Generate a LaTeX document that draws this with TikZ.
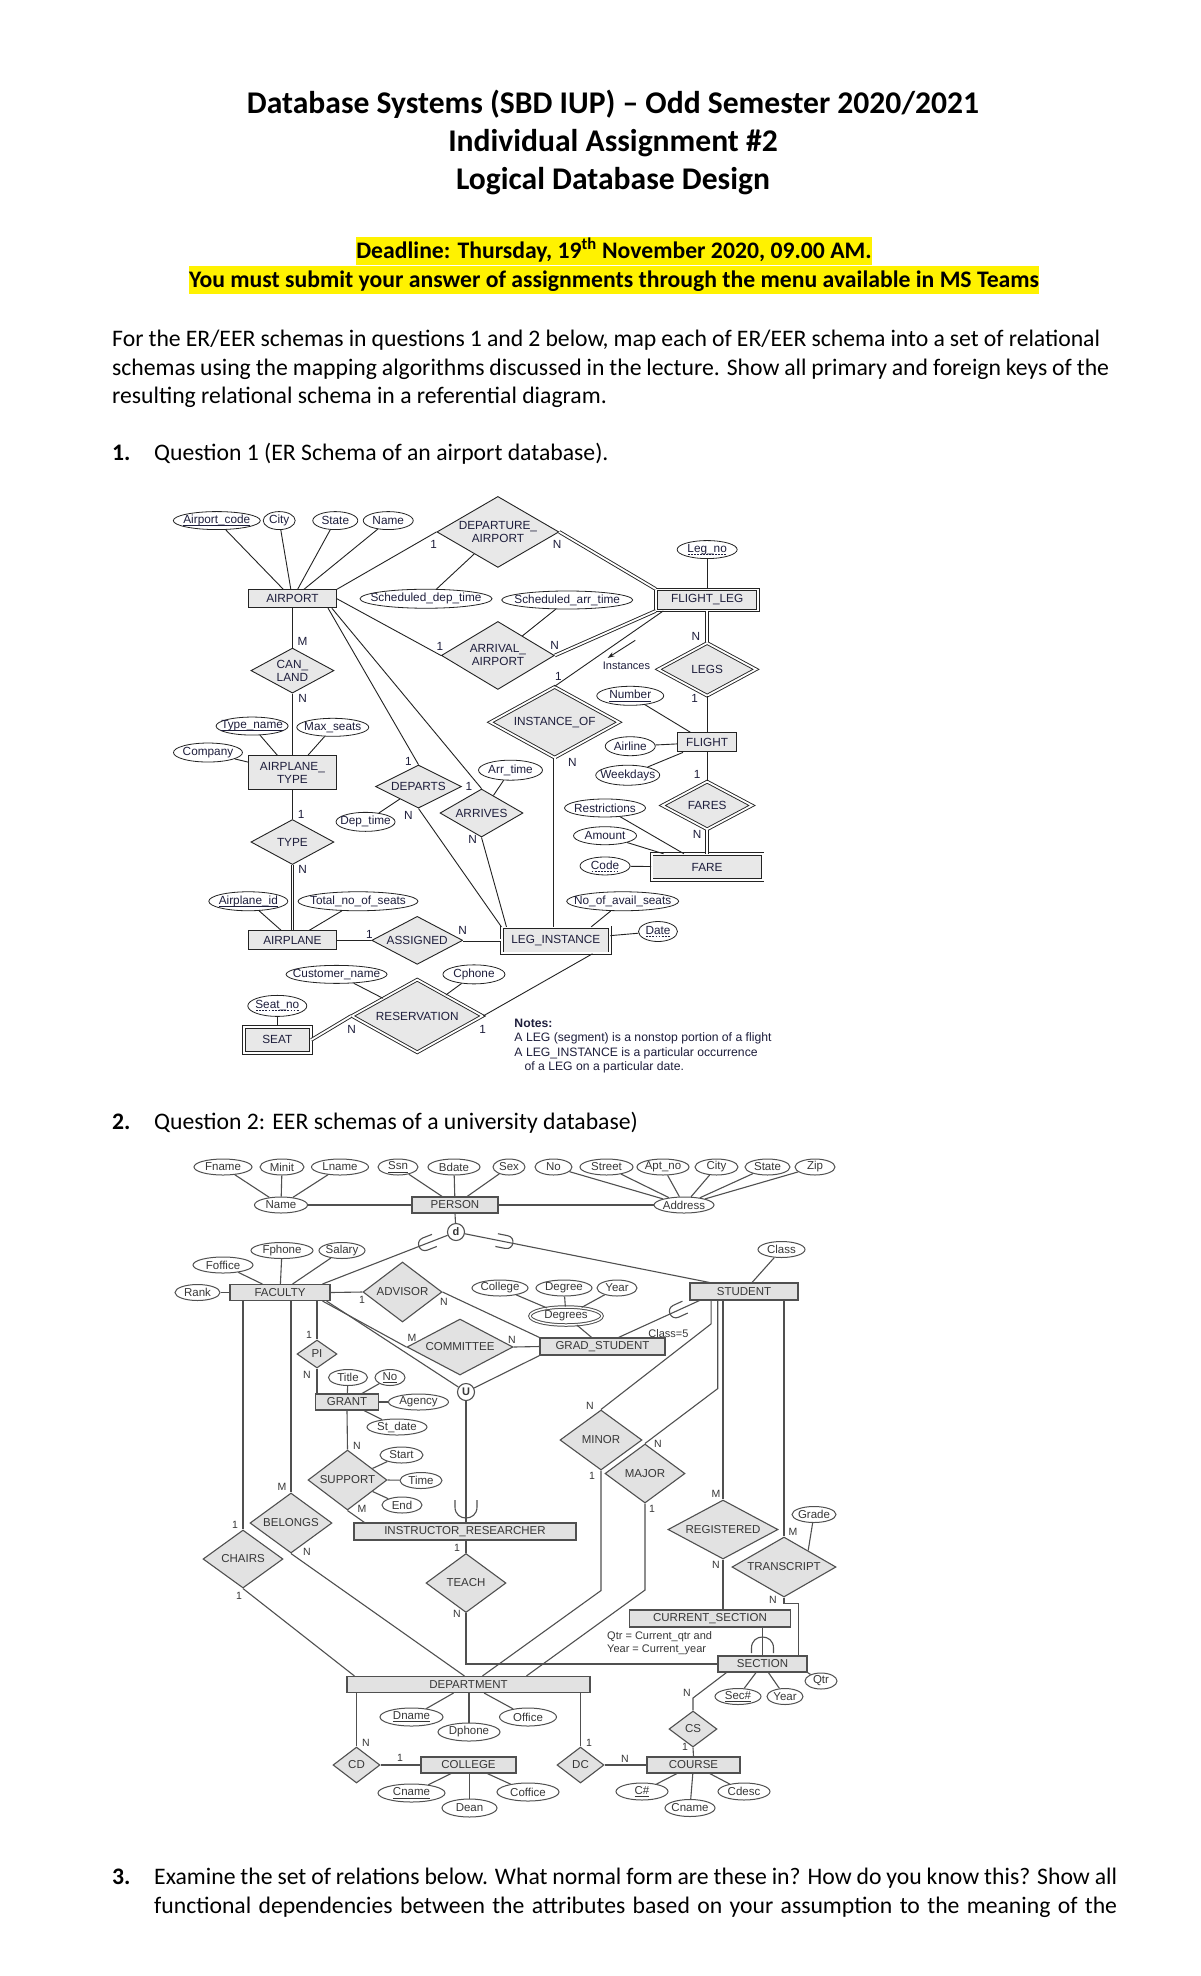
\documentclass[tikz,border=0pt]{standalone}
\usepackage{fontspec}
\usepackage{graphicx}
\setmainfont{Carlito}
\newfontfamily\dfont{Liberation Sans}
\usetikzlibrary{shapes.geometric,calc,arrows.meta}
\definecolor{egray}{RGB}{232,232,232}
\definecolor{dtext}{RGB}{30,30,60}
\definecolor{dline}{RGB}{35,35,35}
\definecolor{ftext}{RGB}{55,55,55}
\definecolor{fline}{RGB}{80,80,80}
\definecolor{fgray}{RGB}{226,226,226}
\newcommand{\keyul}[1]{\setbox0=\hbox{#1}\leavevmode\rlap{\raisebox{-2.2pt}{\rule{\wd0}{0.6pt}}}\box0}
\newcommand{\dashul}[1]{\setbox0=\hbox{#1}\leavevmode\rlap{\raisebox{-2.2pt}{\hbox to \wd0{\xleaders\hbox to 3pt{\hss\rule{1.8pt}{0.6pt}\hss}\hfill}}}\box0}
\tikzset{
 sz/.style 2 args={minimum width=#1pt,minimum height=#2pt},
 txA/.style={font=\dfont\fontsize{11.8}{13}\selectfont, text=dtext},
 attA/.style={ellipse, draw=dline, fill=white, inner sep=0pt, line width=0.8pt, label={[txA, inner sep=0pt]center:{#1}}},
 entA/.style={txA, rectangle, draw=dline, fill=egray, inner sep=0pt, line width=0.9pt, align=center},
 wentA/.style={entA, double=white, double distance=1.8pt},
 relA/.style={diamond, draw=dline, fill=egray, inner sep=0pt, line width=0.9pt, label={[txA, inner sep=0pt, align=center]center:{#1}}},
 wrelA/.style={relA={#1}, double=white, double distance=1.8pt},
 lnA/.style={draw=dline, line width=0.9pt},
 dlnA/.style={lnA, double=white, double distance=1.8pt},
 crdA/.style={txA, inner sep=0pt},
 txB/.style={font=\dfont\fontsize{11.5}{13}\selectfont, text=ftext},
 attB/.style={ellipse, draw=fline, fill=white, inner sep=0pt, line width=1pt, label={[txB, inner sep=0pt]center:{#1}}},
 entB/.style={txB, rectangle, draw=fline, fill=fgray, inner sep=0pt, line width=1.1pt},
 relB/.style={diamond, draw=fline, fill=fgray, inner sep=0pt, line width=1.1pt, label={[txB, inner sep=0pt]center:{#1}}},
 lnB/.style={draw=fline, line width=1.1pt},
 crdB/.style={font=\dfont\fontsize{10.5}{12}\selectfont, text=ftext, inner sep=0pt},
 subA/.pic={\draw[draw=fline, line width=1.1pt] (10,-6.5) -- (0,-6.5) .. controls (-8.7,-6.5) and (-8.7,6.5) .. (0,6.5) -- (10,6.5);},
 body/.style={font=\fontsize{23.7}{29}\selectfont, inner sep=0pt, anchor=base west},
 bbody/.style={font=\bfseries\fontsize{23.7}{29}\selectfont, inner sep=0pt, anchor=base west},
 ttl/.style={anchor=base, inner sep=0pt, font=\bfseries\fontsize{31.6}{38}\selectfont},
 hlt/.style={anchor=base, fill=yellow, inner xsep=0pt, inner ysep=0pt, text height=21.5pt, text depth=6.5pt, font=\bfseries\fontsize{23.7}{29}\selectfont},
}
\begin{document}
\begin{tikzpicture}[x=1pt,y=-1pt]
\path[use as bounding box, fill=white] (0,0) rectangle (1200,1976);

% ---------------- header ----------------
\node[ttl] (title1) at (613,113) {Database Systems (SBD IUP) – Odd Semester 2020/2021};
\node[ttl] (title2) at (613,151) {Individual Assignment \#2};
\node[ttl] (title3) at (613,189) {Logical Database Design};
\node[hlt] (dead1) at (614,258.5) {Deadline: Thursday, 19\textsuperscript{th} November 2020, 09.00 AM.};
\node[hlt] (dead2) at (614,287.5) {You must submit your answer of assignments through the menu available in MS Teams};
\node[body] (par1) at (112,346) {\makebox[988pt][s]{For the ER/EER schemas in questions 1 and 2 below, map each of ER/EER schema into a set of relational}};
\node[body] (par2) at (112,375) {\makebox[997pt][s]{schemas using the mapping algorithms discussed in the lecture. Show all primary and foreign keys of the}};
\node[body] (par3) at (112,403) {resulting relational schema in a referential diagram.};
\node[bbody] (q1n) at (112,460) {1.};
\node[body] (q1t) at (154,460) {Question 1 (ER Schema of an airport database).};
\node[bbody] (q2n) at (112,1129) {2.};
\node[body] (q2t) at (154,1129) {Question 2: EER schemas of a university database)};
\node[bbody] (q3n) at (112,1884) {3.};
\node[body] (q3a) at (154,1884) {\makebox[963pt][s]{Examine the set of relations below. What normal form are these in? How do you know this? Show all}};
\node[body] (q3b) at (154,1913) {\makebox[963pt][s]{functional dependencies between the attributes based on your assumption to the meaning of the}};

% ---------------- diagram 1 (coordinates in reduced units) ----------------
\begin{scope}[x=1.2605pt,y=-1.2605pt]
\node[attA={\keyul{Airport\_code}}, sz={87}{18}] (apcode) at (172,413) {};
\node[attA={City}, sz={32}{18}] (apcity) at (221.5,413) {};
\node[attA={State}, sz={45}{18}] (apstate) at (266,413) {};
\node[attA={Name}, sz={50}{18}] (apname) at (308,413) {};
\node[entA, sz={88}{18}] (airport) at (232,475) {AIRPORT};
\node[relA={DEPARTURE\_\\AIRPORT}, sz={122}{71}] (dep) at (395,422) {};
\node[attA={Scheduled\_dep\_time}, sz={132}{19}] (sdt) at (338,475) {};
\node[attA={Scheduled\_arr\_time}, sz={131}{18}] (sat) at (450,476) {};
\node[wentA, sz={102}{21}] (fleg) at (561,476) {FLIGHT\_LEG};
\node[attA={\dashul{Leg\_no}}, sz={60}{18}] (legno) at (561,436) {};
\node[relA={ARRIVAL\_\\AIRPORT}, sz={113}{68}] (arr) at (395,520) {};
\node[wrelA={INSTANCE\_OF}, sz={129}{71}] (instof) at (440,573) {};
\node[wrelA={LEGS}, sz={98}{53}] (legs) at (561,531) {};
\node[entA, sz={59}{19}] (flight) at (561,589) {FLIGHT};
\node[attA={\keyul{Number}}, sz={67}{19}] (number) at (500,552) {};
\node[attA={Airline}, sz={50}{19}] (airline) at (500,592) {};
\node[attA={Weekdays}, sz={64}{20}] (weekdays) at (498,615) {};
\node[wrelA={FARES}, sz={90}{48}] (fares) at (561,639) {};
\node[wentA, sz={111}{26}] (fare) at (561,688) {FARE};
\node[attA={Restrictions}, sz={81}{18}] (restr) at (480,641) {};
\node[attA={Amount}, sz={63}{18}] (amount) at (480,663) {};
\node[attA={\dashul{Code}}, sz={50}{18}] (code) at (480,687) {};
\node[attA={No\_of\_avail\_seats}, sz={112}{19}] (nas) at (494,715) {};
\node[attA={\dashul{Date}}, sz={39}{20}] (date) at (522,739) {};
\node[wentA, sz={108}{26}] (li) at (441,746) {LEG\_INSTANCE};
\node[relA={CAN\_\\LAND}, sz={83}{45}] (canland) at (232,532) {};
\node[attA={\keyul{Type\_name}}, sz={72}{18}] (typename) at (200,576) {};
\node[attA={Max\_seats}, sz={72}{18}] (maxseats) at (264,577) {};
\node[attA={Company}, sz={69}{19}] (company) at (165,597) {};
\node[entA, sz={88}{34}] (aptype) at (232,613) {AIRPLANE\_\\TYPE};
\node[relA={DEPARTS}, sz={86}{43}] (departs) at (332,624) {};
\node[attA={Dep\_time}, sz={59}{19}] (deptime) at (290,652) {};
\node[relA={ARRIVES}, sz={83}{48}] (arrives) at (382,645) {};
\node[attA={Arr\_time}, sz={64}{20}] (arrtime) at (405,611) {};
\node[relA={TYPE}, sz={83}{45}] (type) at (232,668) {};
\node[attA={\keyul{Airplane\_id}}, sz={79}{19}] (apid) at (197,715) {};
\node[attA={Total\_no\_of\_seats}, sz={120}{19}] (tns) at (284,715) {};
\node[entA, sz={88}{19}] (airplane) at (232,746) {AIRPLANE};
\node[relA={ASSIGNED}, sz={91}{48}] (assigned) at (331,746) {};
\node[attA={Customer\_name}, sz={101}{18}] (custname) at (267,773) {};
\node[attA={Cphone}, sz={62}{19}] (cphone) at (376,773) {};
\node[wrelA={RESERVATION}, sz={131}{73}] (resv) at (331,806) {};
\node[attA={\dashul{Seat\_no}}, sz={59}{21}] (seatno) at (220,798) {};
\node[wentA, sz={67}{26}] (seat) at (220,825) {SEAT};

\draw[lnA] (apcode) -- (airport);
\draw[lnA] (apcity) -- (airport);
\draw[lnA] (apstate) -- (airport);
\draw[lnA] (apname) -- (airport);
\draw[lnA] (airport.north east) -- (dep.west);
\draw[dlnA] (dep.east) -- (fleg.north west);
\draw[lnA] (sdt) -- (dep);
\draw[lnA] (sat) -- (arr);
\draw[lnA] (legno) -- (fleg);
\draw[lnA] (airport.east) -- (arr.west);
\draw[dlnA] (arr.east) -- (fleg.south west);
\draw[lnA] ($(fleg.south west)+(6,0)$) -- (instof.north);
\draw[dlnA] (instof.south) -- (instof.south |- li.north);
\draw[dlnA] (fleg.south) -- (legs.north);
\draw[lnA] (legs.south) -- (flight.north);
\draw[lnA] (flight.south) -- (fares.north);
\draw[dlnA] (fares.south) -- (fare.north);
\draw[lnA] (number) -- (flight);
\draw[lnA] (airline) -- (flight);
\draw[lnA] (weekdays) -- (flight);
\draw[lnA] (restr) -- (fare);
\draw[lnA] (amount) -- (fare);
\draw[lnA] (code) -- (fare);
\draw[lnA] (nas) -- ($(li.north)+(28,0)$);
\draw[lnA] (date) -- (li);
\draw[lnA] ($(li.south)+(29,0)$) -- (resv.east);
\draw[lnA] (airport.south) -- (canland.north);
\draw[lnA] (canland.south) -- (aptype.north);
\draw[lnA] (typename) -- (aptype);
\draw[lnA] (maxseats) -- (aptype);
\draw[lnA] (company) -- (aptype);
\draw[lnA] ($(airport.south east)+(-7,0)$) -- (departs.north);
\draw[lnA] ($(airport.south east)+(-4,0)$) -- (arrives.north);
\draw[lnA] (departs.south) -- (li.north west);
\draw[lnA] (arrives.south) -- ($(li.north west)+(4,0)$);
\draw[lnA] (deptime) -- (departs);
\draw[lnA] (arrtime) -- (arrives);
\draw[lnA] (aptype.south) -- (type.north);
\draw[dlnA] (type.south) -- (airplane.north);
\draw[lnA] (apid) -- (airplane);
\draw[lnA] (tns) -- (airplane);
\draw[lnA] (airplane.east) -- (assigned.west);
\draw[dlnA] (assigned.east) -- (li.west);
\draw[lnA] (custname) -- (resv);
\draw[lnA] (cphone) -- (resv);
\draw[lnA] (seatno) -- (seat);
\draw[dlnA] (seat.east) -- (resv.west);

\coordinate (insA) at (504,508);
\coordinate (insB) at (482,522);
\draw[lnA, -{Stealth[length=7pt,width=4.5pt]}] (insA) -- (insB);
\node[crdA, font=\dfont\fontsize{11}{13}\selectfont] (inslbl) at (497,528) {Instances};

\node[crdA] (k1) at (344,432) {1};
\node[crdA] (k2) at (442,432) {N};
\node[crdA] (k3) at (349,513) {1};
\node[crdA] (k4) at (440,512) {N};
\node[crdA] (k5) at (443,537) {1};
\node[crdA] (k6) at (454,605) {N};
\node[crdA] (k7) at (552,505) {N};
\node[crdA] (k8) at (551,554) {1};
\node[crdA] (k9) at (553,614) {1};
\node[crdA] (k10) at (553,662) {N};
\node[crdA] (k11) at (240,509) {M};
\node[crdA] (k12) at (240,554) {N};
\node[crdA] (k13) at (324,604) {1};
\node[crdA] (k14) at (372,624) {1};
\node[crdA] (k15) at (324,647) {N};
\node[crdA] (k16) at (375,666) {N};
\node[crdA] (k17) at (239,646) {1};
\node[crdA] (k18) at (240,690) {N};
\node[crdA] (k19) at (293,741) {1};
\node[crdA] (k20) at (367,738) {N};
\node[crdA] (k21) at (279,817) {N};
\node[crdA] (k22) at (383,817) {1};

\node[crdA, anchor=west, font=\dfont\bfseries\fontsize{12.2}{14}\selectfont] (notes0) at (408,812) {Notes:};
\node[crdA, anchor=west, font=\dfont\fontsize{12.2}{14}\selectfont] (notes1) at (408,823.5) {A LEG (segment) is a nonstop portion of a flight};
\node[crdA, anchor=west, font=\dfont\fontsize{12.2}{14}\selectfont] (notes2) at (408,835.3) {A LEG\_INSTANCE is a particular occurrence};
\node[crdA, anchor=west, font=\dfont\fontsize{12.2}{14}\selectfont] (notes3) at (416,846.5) {of a LEG on a particular date.};
\end{scope}

% ---------------- diagram 2 (full units) ----------------
\node[attB={Fname}, sz={58}{16}] (fname) at (223,1167) {};
\node[attB={Minit}, sz={44}{16}] (minit) at (282,1167) {};
\node[attB={Lname}, sz={57}{16}] (lname) at (340,1167) {};
\node[attB={\keyul{Ssn}}, sz={40}{16}] (ssn) at (398,1167) {};
\node[attB={Bdate}, sz={52}{16}] (bdate) at (454,1167) {};
\node[attB={Sex}, sz={32}{16}] (sex) at (509,1167) {};
\node[attB={No}, sz={37}{16}] (adno) at (553.5,1167) {};
\node[attB={Street}, sz={53}{16}] (street) at (606.5,1167) {};
\node[attB={Apt\_no}, sz={52}{16}] (aptno) at (663,1167) {};
\node[attB={City}, sz={43}{16}] (city) at (716.5,1167) {};
\node[attB={State}, sz={45}{16}] (state) at (767.5,1167) {};
\node[attB={Zip}, sz={40}{16}] (zip) at (815,1167) {};
\node[attB={Name}, sz={53}{16}] (name) at (281,1205) {};
\node[entB, sz={86}{16}] (person) at (455,1205) {PERSON};
\node[attB={Address}, sz={60}{16}] (address) at (684,1205) {};
\node[txB, circle, draw=fline, fill=white, line width=1.1pt, minimum size=17pt, inner sep=0pt, font=\dfont\bfseries\fontsize{11}{12}\selectfont] (dcirc) at (456,1232) {d};

\node[attB={Fphone}, sz={62}{16}] (fphone) at (282,1250.5) {};
\node[attB={Salary}, sz={46}{16}] (salary) at (342,1250.5) {};
\node[attB={Foffice}, sz={60}{16}] (foffice) at (223,1265) {};
\node[attB={Rank}, sz={45}{16}] (rank) at (197.5,1292.5) {};
\node[entB, sz={100}{16}] (faculty) at (280,1292.5) {FACULTY};
\node[relB={ADVISOR}, sz={79}{60}] (advisor) at (402.5,1292) {};
\node[relB={COMMITTEE}, sz={106}{56}] (committee) at (460,1347) {};
\node[attB={College}, sz={56}{16}] (college) at (500,1288) {};
\node[attB={Degree}, sz={56}{16}] (degree) at (564,1288) {};
\node[attB={Year}, sz={40}{16}] (year) at (617,1288) {};
\node[attB={Degrees}, sz={72}{18}, double=white, double distance=1.5pt] (degrees) at (566,1316) {};
\node[entB, sz={125}{17}] (gradst) at (602.5,1346.5) {GRAD\_STUDENT};
\node[attB={Class}, sz={47}{16}] (class) at (781.5,1249.5) {};
\node[entB, sz={108}{17}] (student) at (744,1291.5) {STUDENT};
\node[crdB, font=\dfont\fontsize{11}{12}\selectfont] (class5) at (668.5,1334) {Class=5};

\node[relB={PI}, sz={40}{28}] (pi) at (317,1354) {};
\node[attB={Title}, sz={39}{16}] (title) at (348,1377.5) {};
\node[attB={\keyul{No}}, sz={30}{16}] (grno) at (390,1377.5) {};
\node[entB, sz={63}{16}] (grant) at (347,1402) {GRANT};
\node[attB={Agency}, sz={60}{16}] (agency) at (418.5,1402) {};
\node[attB={St\_date}, sz={60}{16}] (stdate) at (397,1427) {};
\node[txB, circle, draw=fline, fill=white, line width=1.1pt, minimum size=17pt, inner sep=0pt, font=\dfont\bfseries\fontsize{11}{12}\selectfont] (ucirc) at (466,1392) {U};
\node[relB={SUPPORT}, sz={79}{60}] (support) at (347.5,1480) {};
\node[attB={Start}, sz={43}{16}] (start) at (401.5,1455) {};
\node[attB={Time}, sz={42}{16}] (time) at (421,1480.5) {};
\node[attB={End}, sz={40}{16}] (send) at (402,1505) {};
\node[relB={BELONGS}, sz={82}{60}] (belongs) at (291,1523) {};
\node[relB={CHAIRS}, sz={80}{58}] (chairs) at (243,1559) {};
\node[entB, sz={222}{17}] (ir) at (465,1531.5) {INSTRUCTOR\_RESEARCHER};
\node[relB={TEACH}, sz={80}{59}] (teach) at (466,1583) {};
\node[relB={MINOR}, sz={82}{60}] (minor) at (601,1440) {};
\node[relB={MAJOR}, sz={80}{59}] (major) at (645,1473.5) {};
\node[relB={REGISTERED}, sz={110}{59}] (registered) at (723,1529.5) {};
\node[relB={TRANSCRIPT}, sz={104}{60}] (transcript) at (784,1567) {};
\node[attB={Grade}, sz={44}{16}] (grade) at (814,1514.5) {};
\node[entB, sz={161}{17}] (cursec) at (710,1618.5) {CURRENT\_SECTION};
\node[crdB, anchor=west, font=\dfont\fontsize{11}{12}\selectfont] (cond1) at (607,1637) {Qtr = Current\_qtr and};
\node[crdB, anchor=west, font=\dfont\fontsize{11}{12}\selectfont] (cond2) at (607,1649.5) {Year = Current\_year};
\node[entB, sz={89}{16}] (section) at (762.5,1664) {SECTION};
\node[attB={Qtr}, sz={32}{16}] (qtr) at (821,1681) {};
\node[attB={\keyul{Sec\#}}, sz={46}{16}] (secno) at (738,1696.5) {};
\node[attB={Year}, sz={36}{16}] (syear) at (785,1696.5) {};
\node[relB={CS}, sz={48}{36}] (cs) at (693,1729) {};
\node[entB, sz={93}{16}] (course) at (693.5,1765) {COURSE};
\node[attB={\keyul{C\#}}, sz={52}{17}] (cno) at (642,1791.5) {};
\node[attB={Cname}, sz={50}{17}] (crname) at (690,1808) {};
\node[attB={Cdesc}, sz={52}{17}] (cdesc) at (744,1791.5) {};
\node[entB, sz={243}{16}] (dept) at (468.5,1684.5) {DEPARTMENT};
\node[attB={\keyul{Dname}}, sz={63}{18}] (dname) at (411.5,1717) {};
\node[attB={Dphone}, sz={62}{18}] (dphone) at (469,1732) {};
\node[attB={Office}, sz={57}{18}] (office) at (528,1717) {};
\node[relB={DC}, sz={47}{36}] (dc) at (580.5,1765) {};
\node[relB={CD}, sz={47}{36}] (cd) at (356.5,1765) {};
\node[entB, sz={95}{16}] (collegeE) at (468.5,1765) {COLLEGE};
\node[attB={\keyul{Cname}}, sz={67}{18}] (clname) at (411.5,1793) {};
\node[attB={Dean}, sz={55}{18}] (dean) at (469.5,1808) {};
\node[attB={Coffice}, sz={62}{18}] (coffice) at (528,1792) {};

% connectors
\draw[lnB] (fname) -- (name);
\draw[lnB] (minit) -- (name);
\draw[lnB] (lname) -- (name);
\draw[lnB] (ssn) -- (person);
\draw[lnB] (bdate) -- (person);
\draw[lnB] (sex) -- (person);
\draw[lnB] (name) -- (person);
\draw[lnB] (person) -- (address);
\draw[lnB] (adno) -- (address);
\draw[lnB] (street) -- (address);
\draw[lnB] (aptno) -- (address);
\draw[lnB] (city) -- (address);
\draw[lnB] (state) -- (address);
\draw[lnB] (zip) -- (address);
\draw[lnB] (person.south) -- (dcirc);
\draw[lnB] ($(faculty.north east)+(-8,0)$) -- (dcirc) pic[pos=0.82, sloped, allow upside down]{subA};
\draw[lnB] ($(student.north west)+(20,0)$) -- (dcirc) pic[pos=0.83, sloped, allow upside down]{subA};
\draw[lnB] (fphone) -- (faculty);
\draw[lnB] (salary) -- (faculty);
\draw[lnB] (foffice) -- (faculty);
\draw[lnB] (rank) -- (faculty);
\draw[lnB] (faculty.east) -- (advisor.west);
\draw[lnB] (advisor.east) -- (gradst.north west);
\draw[lnB] ($(faculty.south east)+(-8,0)$) -- (committee.west);
\draw[lnB] ($(faculty.south east)+(-4,0)$) -- (ucirc);
\draw[lnB] (committee.east) -- (gradst.west);
\draw[lnB] (gradst.south west) -- (ucirc);
\draw[lnB] (college) -- (degrees);
\draw[lnB] (degree) -- (degrees);
\draw[lnB] (year) -- (degrees);
\draw[lnB] (degrees) -- (gradst);
\draw[lnB] ($(gradst.north)+(16,0)$) -- ($(student.south west)+(10,0)$) pic[pos=0.71, sloped, allow upside down]{subA};
\draw[lnB] (class) -- (student);
\draw[lnB] ($(student.south west)+(21.7,0)$) -- ++(0,23.3) -- (minor.north);
\draw[lnB] ($(student.south west)+(28.3,0)$) -- ++(0,88) -- (major.north);
\draw[lnB] (registered.north |- student.south) -- (registered.north);
\draw[lnB] (transcript.north |- student.south) -- (transcript.north);
\draw[lnB] (chairs.north |- faculty.south) -- (chairs.north);
\draw[lnB] (belongs.north |- faculty.south) -- (belongs.north);
\draw[lnB] (pi.north |- faculty.south) -- (pi.north);
\draw[lnB] (pi.south) -- (pi.south |- grant.north);
\draw[lnB] (title) -- (grant);
\draw[lnB] (grno) -- (grant);
\draw[lnB] (grant.east) -- (agency);
\draw[lnB] (stdate) -- (grant);
\draw[lnB] (grant.south) -- (support.north);
\draw[lnB] (start) -- (support);
\draw[lnB] (support.east) -- (time);
\draw[lnB] (send) -- (support);
\draw[lnB] (support.south) -- ($(ir.north west)+(11,0)$);
\draw[lnB] (ucirc |- ir.north) -- (ucirc);
\draw[lnB] (455,1500) -- (455,1507) .. controls (455,1521.7) and (477,1521.7) .. (477,1507) -- (477,1500);
\draw[lnB] (teach.north |- ir.south) -- (teach.north);
\draw[lnB] (teach.south) |- (section.west);
\draw[lnB] (belongs.south) -- ($(dept.north west)+(118,0)$);
\draw[lnB] (chairs.south) -- ($(dept.north west)+(8,0)$);
\draw[lnB] (minor.south) -- ++(0,120) -- ($(dept.north west)+(136,0)$);
\draw[lnB] (major.south) -- ++(0,86.5) -- ($(dept.north west)+(180,0)$);
\draw[lnB] (registered.south) -- (registered.south |- cursec.north);
\draw[lnB] (transcript.south) -- ++(0,6) -| ($(section.north east)+(-9.5,0)$);
\draw[lnB] (grade) -- ($(transcript.north)!0.46!(transcript.east)$);
\draw[lnB] (section.north |- cursec.south) -- (section.north);
\draw[lnB] (751.5,1653) -- (751.5,1648) .. controls (751.5,1633.3) and (773.5,1633.3) .. (773.5,1648) -- (773.5,1653);
\coordinate (csbend) at (693,1698);
\draw[lnB] ($(section.south west)+(9,0)$) -- (csbend) -- (cs.north);
\draw[lnB] (secno) -- (section);
\draw[lnB] (syear) -- (section);
\draw[lnB] (qtr) -- (section.south east);
\draw[lnB] (cs.south) -- (course.north);
\draw[lnB] (cno) -- (course);
\draw[lnB] (crname) -- (course);
\draw[lnB] (cdesc) -- (course);
\draw[lnB] (dc.north |- dept.south) -- (dc.north);
\draw[lnB] (dc.east) -- (course.west);
\draw[lnB] (cd.north |- dept.south) -- (cd.north);
\draw[lnB] (cd.east) -- (collegeE.west);
\draw[lnB] (dname) -- (dept);
\draw[lnB] (dphone) -- (dphone |- dept.south);
\draw[lnB] (office) -- (dept);
\draw[lnB] (clname) -- (collegeE);
\draw[lnB] (dean) -- (dean |- collegeE.south);
\draw[lnB] (coffice) -- (collegeE);

% cardinalities
\node[crdB] (m1) at (362,1300) {1};
\node[crdB] (m2) at (444,1302) {N};
\node[crdB] (m3) at (412,1338) {M};
\node[crdB] (m4) at (512,1340) {N};
\node[crdB] (m5) at (309,1335) {1};
\node[crdB] (m6) at (307,1375) {N};
\node[crdB] (m7) at (357,1446) {N};
\node[crdB] (m8) at (362,1509) {M};
\node[crdB] (m9) at (282,1487) {M};
\node[crdB] (m10) at (307,1552) {N};
\node[crdB] (m11) at (235,1525) {1};
\node[crdB] (m12) at (239,1596) {1};
\node[crdB] (m13) at (457,1548) {1};
\node[crdB] (m14) at (457,1614) {N};
\node[crdB] (m15) at (590,1406) {N};
\node[crdB] (m16) at (592,1476) {1};
\node[crdB] (m17) at (658,1444) {N};
\node[crdB] (m18) at (652,1509) {1};
\node[crdB] (m19) at (716,1494) {M};
\node[crdB] (m20) at (716,1565) {N};
\node[crdB] (m21) at (793,1532) {M};
\node[crdB] (m22) at (773,1600) {N};
\node[crdB] (m23) at (687,1693) {N};
\node[crdB] (m24) at (685,1747) {1};
\node[crdB] (m25) at (589,1743) {1};
\node[crdB] (m26) at (625,1759) {N};
\node[crdB] (m27) at (366,1743) {N};
\node[crdB] (m28) at (400,1758) {1};
\end{tikzpicture}
\end{document}
